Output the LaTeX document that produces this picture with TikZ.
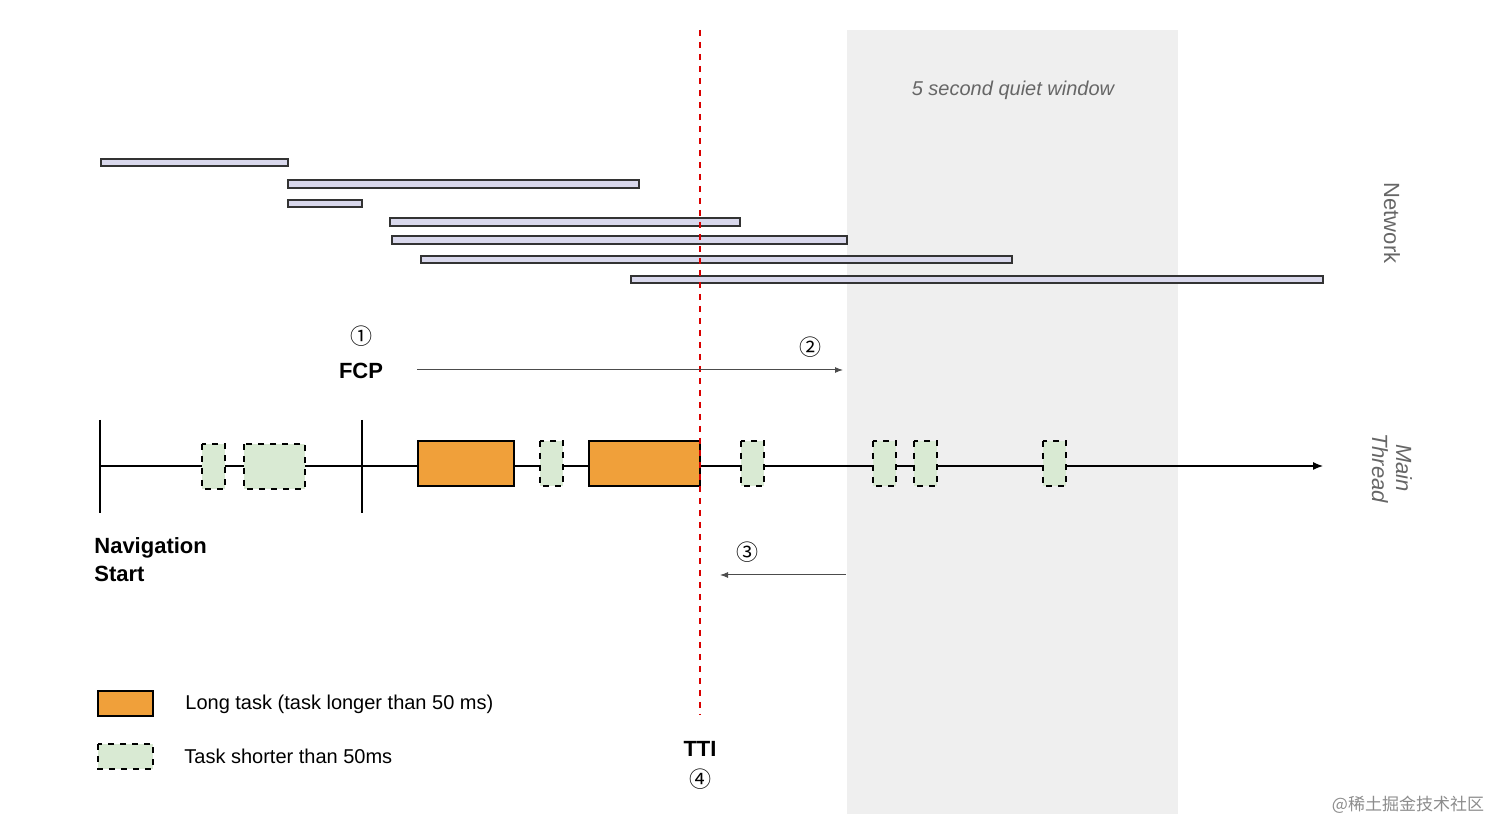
\documentclass[tikz,border=0pt]{standalone}
\usepackage{fontspec}
\setmainfont{Liberation Sans}
\newfontfamily\cjk{Noto Sans CJK SC}
\begin{document}
\begin{tikzpicture}[x=0.5pt,y=-0.5pt,
 net/.style={draw=black!80,fill=lavbar,line width=0.6pt},
 lt/.style={draw=black,fill=orangetask,line width=0.6pt},
 st/.style={draw=black,fill=greentask,dashed,line width=0.6pt},
 lbl/.style={font=\bfseries\fontsize{11}{13}\selectfont},
 circ/.style={font=\cjk\fontsize{11}{13}\selectfont},
 arr/.style={draw=black!70,line width=0.5pt,-{Latex[length=4pt,width=3pt]}}]
\usetikzlibrary{arrows.meta}
\definecolor{lavbar}{HTML}{D9D8EC}
\definecolor{orangetask}{HTML}{F0A03A}
\definecolor{greentask}{HTML}{D9EAD3}
\definecolor{quiet}{HTML}{EFEFEF}
\useasboundingbox (0,0) rectangle (1512,839);
\fill[quiet] (847,30) rectangle (1178,814);
\node[font=\itshape\fontsize{10}{12}\selectfont,text=black!60] (qw) at (1013,90) {5 second quiet window};
\draw[net] (101,159) rectangle (288,166);
\draw[net] (288,180) rectangle (639,188);
\draw[net] (288,200) rectangle (362,207);
\draw[net] (390,218) rectangle (740,226);
\draw[net] (392,236) rectangle (847,244);
\draw[net] (421,256) rectangle (1012,263);
\draw[net] (631,276) rectangle (1323,283);
\node[rotate=-90,font=\fontsize{11}{13}\selectfont,text=black!60] (nw) at (1392,223) {Network};
\node[rotate=-90,font=\itshape\fontsize{11}{12}\selectfont,text=black!60,align=center] (mt) at (1392,468) {Main\\Thread};
\coordinate (ts) at (100,466); \coordinate (te) at (1323,466);
\draw[line width=0.6pt,-{Latex[length=5pt,width=4pt]}] (ts) -- (te);
\draw[line width=0.6pt] (100,420) -- (100,513);
\draw[line width=0.6pt] (362,420) -- (362,513);
\draw[st] (202,444) rectangle (225,489);
\draw[st] (244,444) rectangle (305,489);
\draw[lt] (418,441) rectangle (514,486);
\draw[st] (540,441) rectangle (563,486);
\draw[lt] (589,441) rectangle (700,486);
\draw[st] (741,441) rectangle (764,486);
\draw[st] (873,441) rectangle (896,486);
\draw[st] (914,441) rectangle (937,486);
\draw[st] (1043,441) rectangle (1066,486);
\draw[red!85!black,dashed,line width=0.6pt] (700,30) -- (700,715);
\node[circ] (c1) at (361,336) {①};
\node[lbl] (fcp) at (361,371) {FCP};
\coordinate (a1) at (417,370); \coordinate (a2) at (843,370);
\draw[arr] (a1) -- (a2);
\node[circ] (c2) at (810,347) {②};
\coordinate (b1) at (846,575); \coordinate (b2) at (720,575);
\draw[arr] (b1) -- (b2);
\node[circ] (c3) at (747,552) {③};
\node[lbl,align=left,anchor=north west,inner sep=0pt] (ns) at (94,537) {Navigation\\[1pt]Start};
\draw[lt] (98,691) rectangle (153,716);
\draw[st] (98,744) rectangle (153,769);
\node[anchor=west,inner sep=0pt,font=\fontsize{10}{12}\selectfont] (l1) at (185,704) {Long task (task longer than 50 ms)};
\node[anchor=west,inner sep=0pt,font=\fontsize{10}{12}\selectfont] (l2) at (184,756) {Task shorter than 50ms};
\node[lbl] (tti) at (700,749) {TTI};
\node[circ] (c4) at (700,779) {④};
\node[font=\cjk\fontsize{8.5}{10}\selectfont,text=black!45] (wm) at (1408,805) {@稀土掘金技术社区};
\end{tikzpicture}
\end{document}
